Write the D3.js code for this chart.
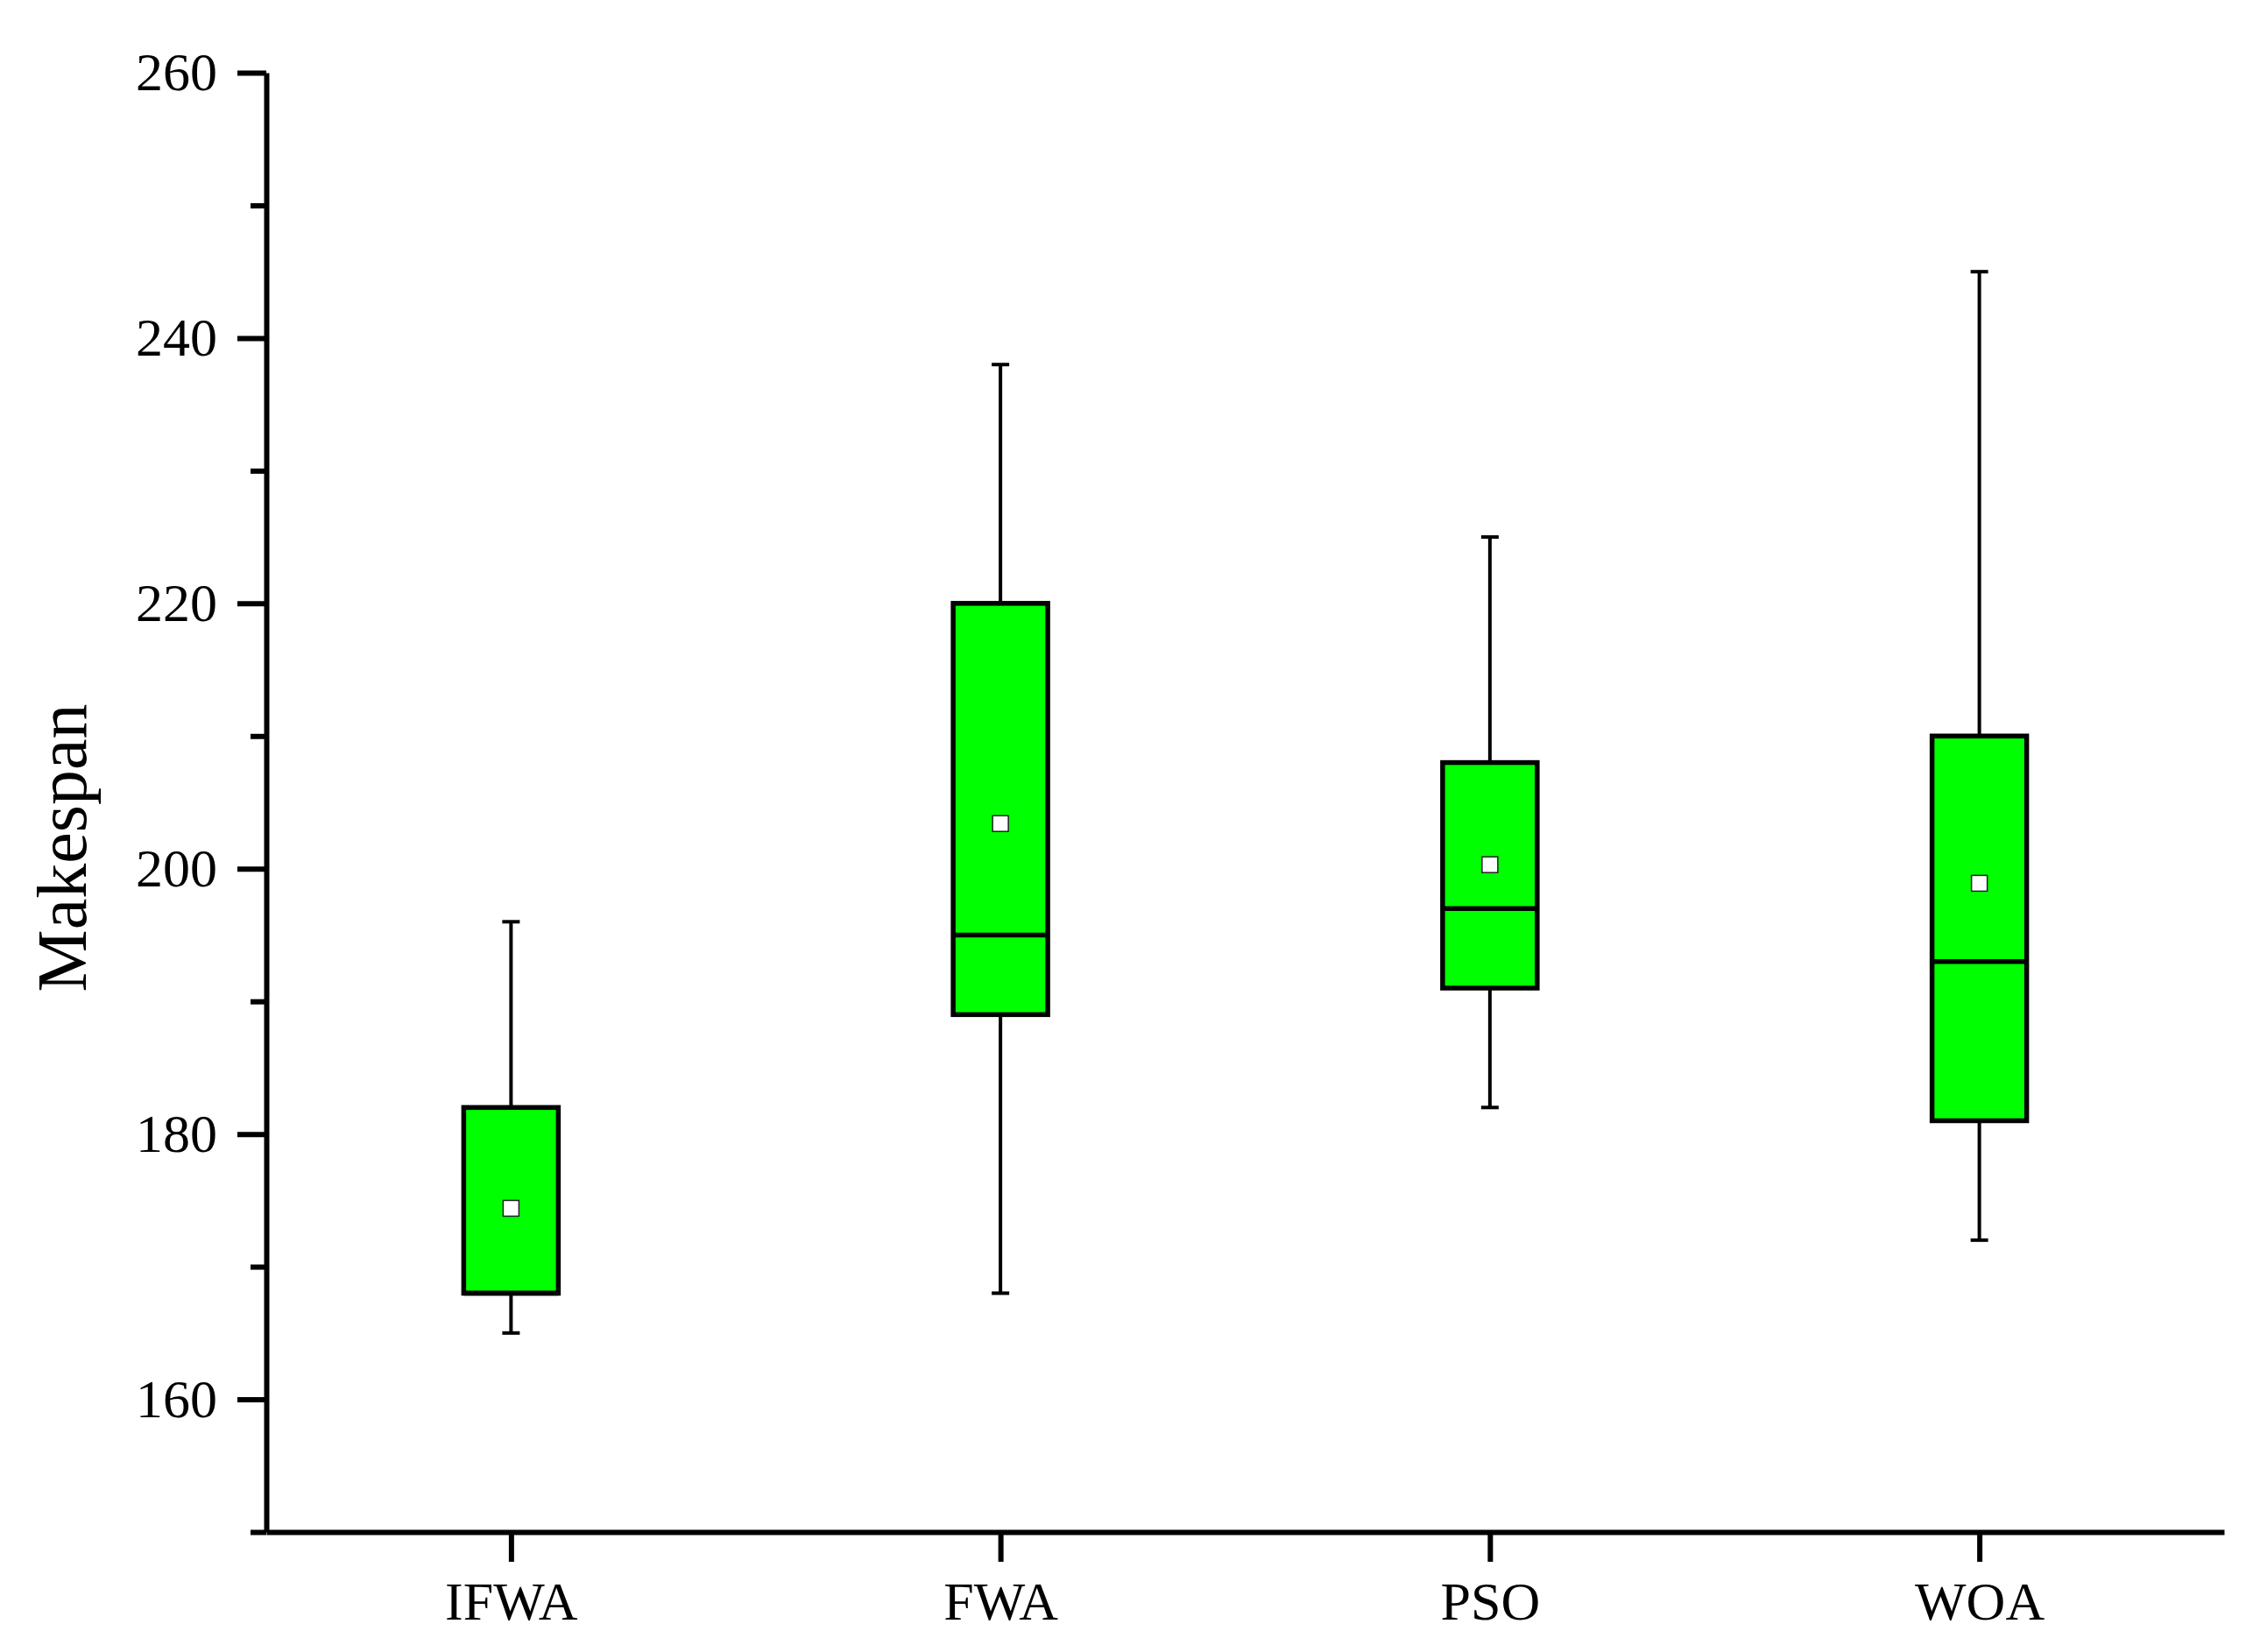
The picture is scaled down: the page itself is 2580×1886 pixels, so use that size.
<!DOCTYPE html>
<html>
<head>
  <meta charset="utf-8">
  <title>Makespan box plot</title>
  <style>
    body { margin: 0; background: white; }
    svg text { font-family: "Times New Roman", "Liberation Serif", serif; fill: black; }
    .axis path, .axis line { stroke: black; stroke-width: 6; }
    .axis text { font-size: 62px; }
  </style>
</head>
<body>
  <div id="chart"></div>
  <script src="https://cdn.jsdelivr.net/npm/d3@7"></script>
  <script>
    // values
    const categories = ["IFWA", "FWA", "PSO", "WOA"];
    const whiskerLow  = [165, 168, 182, 172];
    const q1          = [168, 189, 191, 181];
    const median      = [168, 195, 197, 193];
    const q3          = [182, 220, 208, 210];
    const whiskerHigh = [196, 238, 225, 245];
    const means       = [174.4, 203.4, 200.3, 198.9];

    const majorTicks = [160, 180, 200, 220, 240, 260];
    const minorTicks = [150, 170, 190, 210, 230, 250];

    const width = 2580, height = 1886;
    const plotLeft = 304, plotRight = 2539, plotTop = 83, plotBottom = 1749;
    const boxWidth = 108, capWidth = 20, meanSize = 18;

    let svg = d3.select("#chart")
      .append("svg")
      .attr("width", width)
      .attr("height", height);

    let x = d3.scalePoint()
      .domain(categories)
      .range([plotLeft, plotRight])
      .padding(0.5);

    let y = d3.scaleLinear()
      .domain([150, 260])
      .range([plotBottom, plotTop]);

    let rows = categories.map((c, i) => ({
      name: c, lo: whiskerLow[i], q1: q1[i], med: median[i],
      q3: q3[i], hi: whiskerHigh[i], mean: means[i]
    }));

    // minor ticks on the y axis (no labels)
    svg.append("g")
      .attr("class", "axis")
      .attr("transform", `translate(${plotLeft},0)`)
      .call(d3.axisLeft(y).tickValues(minorTicks).tickSize(18).tickSizeOuter(0).tickFormat(""))
      .call(g => g.select(".domain").remove());

    svg.append("g")
      .attr("class", "axis")
      .attr("transform", `translate(${plotLeft},0)`)
      .call(d3.axisLeft(y).tickValues(majorTicks).tickSize(33).tickSizeOuter(0).tickPadding(23));

    svg.append("g")
      .attr("class", "axis")
      .attr("transform", `translate(0,${plotBottom})`)
      .call(d3.axisBottom(x).tickSize(34).tickSizeOuter(0).tickPadding(22));

    svg.selectAll(".axis").attr("font-family", null).attr("font-size", null);

    // y title
    svg.append("text")
      .attr("transform", `translate(98,${(y(150) + y(260)) / 2 + 52}) rotate(-90)`)
      .attr("text-anchor", "middle")
      .style("font-size", "80px")
      .text("Makespan");

    let boxes = svg.selectAll(".box")
      .data(rows)
      .enter().append("g")
        .attr("class", "box")
        .attr("transform", d => `translate(${x(d.name)},0)`);

    // whiskers
    boxes.append("line")
      .attr("x1", 0).attr("x2", 0)
      .attr("y1", d => y(d.lo)).attr("y2", d => y(d.hi))
      .attr("stroke", "black").attr("stroke-width", 4);

    boxes.selectAll(".cap")
      .data(d => [d.lo, d.hi])
      .enter().append("line")
        .attr("x1", -capWidth / 2).attr("x2", capWidth / 2)
        .attr("y1", v => y(v)).attr("y2", v => y(v))
        .attr("stroke", "black").attr("stroke-width", 4);

    boxes.append("rect")
      .attr("x", -boxWidth / 2)
      .attr("width", boxWidth)
      .attr("y", d => y(d.q3))
      .attr("height", d => y(d.q1) - y(d.q3))
      .attr("fill", "#00ff00")
      .attr("stroke", "black")
      .attr("stroke-width", 5.5);

    boxes.append("line")
      .attr("x1", -boxWidth / 2).attr("x2", boxWidth / 2)
      .attr("y1", d => y(d.med)).attr("y2", d => y(d.med))
      .attr("stroke", "black").attr("stroke-width", 5.5);

    boxes.append("rect")
      .attr("x", -meanSize / 2)
      .attr("y", d => y(d.mean) - meanSize / 2)
      .attr("width", meanSize)
      .attr("height", meanSize)
      .attr("fill", "white")
      .attr("stroke", "#222")
      .attr("stroke-width", 1.5);
  </script>
</body>
</html>
